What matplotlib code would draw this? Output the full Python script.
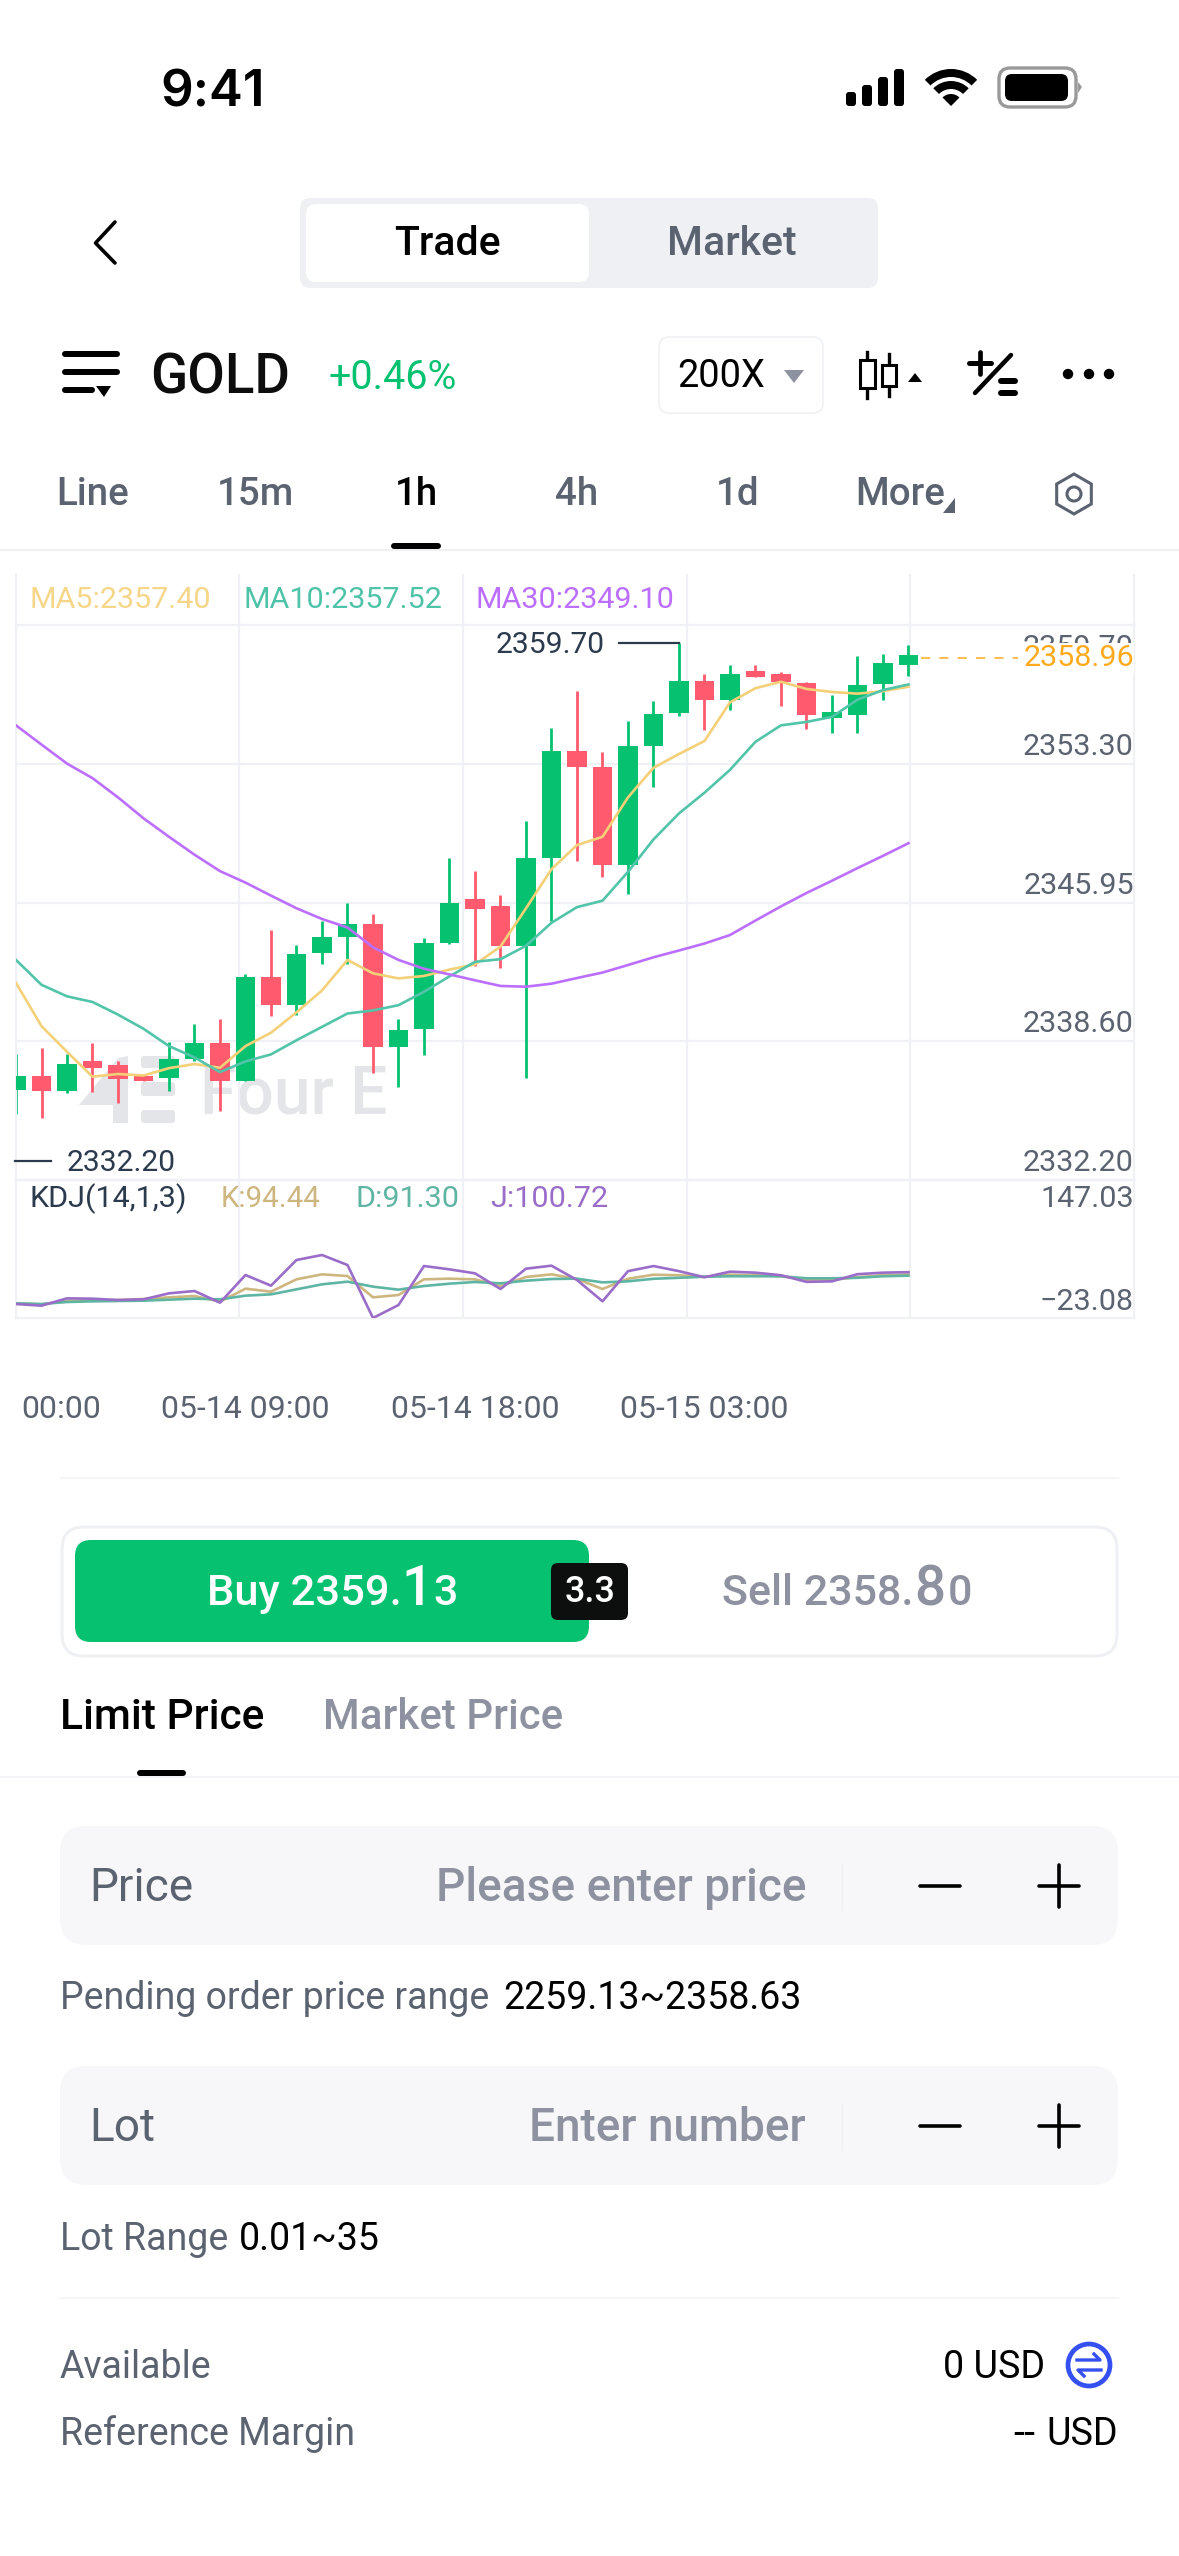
import matplotlib
matplotlib.use('Agg')
import matplotlib.pyplot as plt
from matplotlib.patches import FancyBboxPatch, Polygon, Circle, Rectangle, Wedge, RegularPolygon

plt.rcParams['font.family'] = ['Roboto', 'DejaVu Sans']

# ---- chart values ----
opens = [2336.03, 2336.78, 2335.95, 2337.53, 2337.33, 2336.78, 2336.64, 2337.67, 2338.51, 2336.47, 2342.00, 2340.53,
         2343.27, 2344.13, 2344.80, 2338.28, 2339.26, 2343.82, 2346.12, 2345.77, 2343.64, 2348.31, 2353.97, 2353.14,
         2347.96, 2354.27, 2355.98, 2357.68, 2356.71, 2358.21, 2358.05, 2357.62, 2355.76, 2355.92, 2357.52, 2358.57]
highs = [2337.94, 2338.24, 2337.90, 2338.51, 2337.53, 2336.82, 2338.55, 2339.50, 2339.76, 2342.14, 2344.49, 2343.68,
         2345.00, 2345.91, 2345.32, 2339.76, 2344.07, 2348.29, 2347.64, 2346.34, 2350.28, 2355.19, 2357.16, 2353.91,
         2355.59, 2356.63, 2359.70, 2358.05, 2358.53, 2358.53, 2358.19, 2357.64, 2356.97, 2359.04, 2359.14, 2359.61]
lows = [2334.75, 2334.53, 2335.85, 2335.91, 2335.30, 2336.47, 2335.95, 2337.57, 2334.89, 2336.47, 2339.96, 2340.01,
        2342.67, 2342.71, 2336.92, 2336.15, 2337.88, 2343.76, 2342.60, 2342.46, 2336.66, 2345.00, 2348.15, 2347.33,
        2346.40, 2352.10, 2355.86, 2355.11, 2356.18, 2357.91, 2356.39, 2355.17, 2354.97, 2354.97, 2356.67, 2357.97]
closes = [2336.78, 2335.95, 2337.37, 2337.17, 2336.62, 2336.47, 2337.67, 2338.51, 2336.47, 2342.00, 2340.53, 2343.25,
          2344.13, 2344.80, 2338.28, 2339.21, 2343.82, 2345.95, 2345.63, 2343.64, 2348.31, 2353.97, 2353.14, 2347.96,
          2354.27, 2355.96, 2357.68, 2356.71, 2358.05, 2357.91, 2357.64, 2355.90, 2356.06, 2357.50, 2358.68, 2359.08]
ma5 = [2341.69, 2339.40, 2338.04, 2336.72, 2336.86, 2336.78, 2337.17, 2337.39, 2337.19, 2338.34, 2339.05, 2340.13,
       2341.29, 2342.91, 2342.20, 2341.93, 2342.06, 2342.40, 2342.67, 2343.62, 2345.65, 2347.72, 2349.00, 2349.44,
       2351.53, 2353.10, 2353.83, 2354.52, 2356.57, 2357.32, 2357.66, 2357.28, 2357.12, 2357.03, 2357.16, 2357.40]
ma10 = [2342.91, 2341.59, 2340.98, 2340.68, 2340.01, 2339.26, 2338.34, 2337.74, 2336.96, 2337.53, 2337.90, 2338.65,
        2339.36, 2340.07, 2340.23, 2340.51, 2341.22, 2342.04, 2342.81, 2342.95, 2343.66, 2344.88, 2345.71, 2346.05,
        2347.58, 2349.30, 2350.68, 2351.78, 2352.99, 2354.48, 2355.35, 2355.53, 2355.80, 2356.71, 2357.22, 2357.52]
ma30 = [2355.35, 2354.33, 2353.32, 2352.55, 2351.53, 2350.42, 2349.44, 2348.49, 2347.62, 2347.01, 2346.32, 2345.65,
        2345.08, 2344.63, 2343.58, 2342.91, 2342.44, 2342.14, 2341.83, 2341.53, 2341.49, 2341.65, 2341.95, 2342.24,
        2342.64, 2343.05, 2343.41, 2343.78, 2344.23, 2345.00, 2345.75, 2346.46, 2347.11, 2347.78, 2348.43, 2349.10]
kdj_k = [16.5, 13.8, 23.7, 25.5, 25.5, 28.2, 32.7, 36.3, 21.0, 56.1, 48.0, 81.3, 94.8, 90.3, 32.7, 39.0, 81.3, 83.1,
         81.3, 63.3, 87.6, 94.8, 82.2, 55.2, 82.8, 93.8, 92.4, 88.3, 93.8, 92.4, 89.6, 80.0, 80.0, 87.0, 92.4, 94.44]
kdj_d = [16.5, 14.7, 20.1, 21.9, 22.8, 23.7, 26.4, 29.1, 27.3, 37.2, 40.8, 54.3, 67.8, 75.0, 61.5, 53.4, 63.3, 69.6,
         74.1, 70.5, 77.7, 82.2, 83.1, 73.1, 76.0, 82.8, 85.5, 88.3, 89.6, 89.6, 89.6, 84.1, 84.1, 85.5, 89.6, 91.30]
kdj_j = [14.7, 10.2, 30.0, 29.1, 25.5, 27.3, 43.5, 49.8, 18.3, 93.0, 64.2, 133.5, 147.03, 120.0, -23.08, 12.0, 117.3,
         108.3, 97.5, 55.2, 110.1, 118.2, 79.5, 22.1, 103.4, 117.2, 103.4, 86.9, 102.0, 99.3, 92.4, 74.5, 75.9, 95.2,
         99.3, 100.72]
price_ticks = [2353.30, 2345.95, 2338.60]
time_labels = ['00:00', '05-14 09:00', '05-14 18:00', '05-15 03:00']
tabs = ['Line', '15m', '1h', '4h', '1d', 'More']

GREEN = '#05C170'
RED = '#FF5A6E'
GRID = '#F0F1F4'
INK = '#2C3A4E'
GRAY = '#8E92A0'
LABEL = '#5B6270'
W, H = 1179, 2556

fig = plt.figure(figsize=(W / 100, H / 100), dpi=100, facecolor='white')


def px_axes(left, top, right, bottom, z):
    return fig.add_axes([left / W, 1 - bottom / H, (right - left) / W, (bottom - top) / H], zorder=z)


# background layer and top layer both work in screen pixels
bg = px_axes(0, 0, W, H, 0)
ui = px_axes(0, 0, W, H, 5)
for a in (bg, ui):
    a.set_xlim(0, W)
    a.set_ylim(H, 0)
    a.axis('off')
    a.patch.set_alpha(0)


def txt(x, y, s, size, color='black', ha='left', va='center', weight='normal', family=None, **kw):
    if family is not None:
        kw['family'] = family
    if va == 'center':
        y = y + size * 0.09  # matplotlib centres on the box with descender, screenshot text sits lower
    return ui.text(x, y, s, fontsize=size * 0.72, color=color, ha=ha, va=va, fontweight=weight, **kw)


def box(a, x0, y0, x1, y1, r, fc, ec='none', lw=0, z=1):
    a.add_patch(FancyBboxPatch((x0 + r, y0 + r), x1 - x0 - 2 * r, y1 - y0 - 2 * r,
                               boxstyle='round,pad=%s,rounding_size=%s' % (r, r),
                               fc=fc, ec=ec, lw=lw, zorder=z))


def bar(x0, x1, y, lw, color='black'):
    ui.plot([x0, x1], [y, y], color=color, lw=lw * 0.72, solid_capstyle='round')


# ---- watermark sits behind the candles ----
wm = '#E4E5E8'
bg.add_patch(Polygon([(79, 1105), (118, 1058), (128, 1056), (128, 1123), (113, 1123), (113, 1105)], fc=wm, ec='none'))
for y0, y1 in [(1056, 1068), (1082, 1096), (1110, 1123)]:
    box(bg, 141, y0, 175, y1, 3, wm)
bg.text(200, 1095, 'Four E', fontsize=66 * 0.72, color=wm, va='center', ha='left', fontweight='medium')

# ---- price panel ----
LEFT, RIGHT = 15.5, 1134
PRICE_TOP, PRICE_BOT, KDJ_BOT = 625, 1180, 1318
STEP = 25.5
PER_PX = 7.35 / 138.6
idx = list(range(len(opens)))


def x_limits():
    return (LEFT - 16) / STEP, (RIGHT - 16) / STEP


def vgrid(ax):
    for px in (238.7, 462.7, 686.7, 910.3):
        ax.axvline((px - 16) / STEP, color=GRID, lw=1.6, zorder=0)


# grid verticals carry on up through the MA legend row
for px in (15.5, 238.7, 462.7, 686.7, 910.3, 1134):
    bg.plot([px, px], [575, 625], color=GRID, lw=1.6)

ax = px_axes(LEFT, PRICE_TOP, RIGHT, PRICE_BOT, 2)
ax.patch.set_alpha(0)
ax.set_xlim(*x_limits())
ax.set_ylim(2353.30 - (PRICE_BOT - 764) * PER_PX, 2353.30 + (764 - PRICE_TOP) * PER_PX)
vgrid(ax)
ax.set_yticks(price_ticks)
ax.set_xticks([])
ax.tick_params(left=False, labelleft=False)
ax.grid(axis='y', color=GRID, lw=1.6, zorder=0)
ax.set_axisbelow(True)
for s in ax.spines.values():
    s.set_color(GRID)
    s.set_linewidth(1.6)

body_w = 19.3 / STEP
for i in idx:
    up = closes[i] >= opens[i]
    c = GREEN if up else RED
    ax.plot([i, i], [lows[i], highs[i]], color=c, lw=2.0, solid_capstyle='butt', zorder=2, clip_on=True)
    ax.bar(i, abs(closes[i] - opens[i]), bottom=min(opens[i], closes[i]), width=body_w, color=c, zorder=3)
ax.plot(idx, ma5, color='#F4D078', lw=1.9, zorder=4)
ax.plot(idx, ma10, color='#52C4A9', lw=1.9, zorder=4)
ax.plot(idx, ma30, color='#BC6FFF', lw=1.9, zorder=4)
ax.set_xlim(*x_limits())
ax.plot([(921 - 16) / STEP, (1018 - 16) / STEP], [2358.94, 2358.94], color='#FFAA1E', lw=1.1, dashes=(6, 6), zorder=4)

# ---- KDJ panel ----
ax2 = px_axes(LEFT, PRICE_BOT, RIGHT, KDJ_BOT, 2)
ax2.patch.set_alpha(0)
ax2.set_xlim(*x_limits())
ax2.set_ylim(-23.08, -23.08 + (KDJ_BOT - PRICE_BOT) * 2.70)
vgrid(ax2)
ax2.set_xticks([])
ax2.set_yticks([])
for s in ax2.spines.values():
    s.set_color(GRID)
    s.set_linewidth(1.6)
ax2.plot(idx, kdj_k, color='#CDB67F', lw=1.9, zorder=3)
ax2.plot(idx, kdj_d, color='#5FB5A3', lw=1.9, zorder=3)
ax2.plot(idx, kdj_j, color='#9A6DC9', lw=1.9, zorder=4)

# legend rows and axis labels
txt(30, 597, 'MA5:2357.40', 30.5, '#F6D688')
txt(244, 597, 'MA10:2357.52', 30.5, '#4FC3A8')
txt(475, 597, 'MA30:2349.10', 30.5, '#BC6FFF')
txt(496, 642, '2359.70', 30, INK)
ui.plot([619, 679], [643, 643], color=INK, lw=1.6)
txt(67, 1160, '2332.20', 30, INK)
ui.plot([15, 51], [1161, 1161], color=INK, lw=1.6)
txt(1134, 645, '2359.70', 30.5, LABEL, ha='right', zorder=2)
ui.add_patch(Rectangle((1023, 643), 111, 30, fc='white', ec='none', zorder=3))
txt(1134, 655, '2358.96', 30.5, '#FFAA1E', ha='right', zorder=4)
for v, y in zip(price_ticks, (744, 883, 1021)):
    txt(1134, y, '%.2f' % v, 30.5, LABEL, ha='right')
txt(1134, 1160, '2332.20', 30.5, LABEL, ha='right')
txt(1134, 1196, '147.03', 30.5, LABEL, ha='right')
txt(1134, 1299, '\u221223.08', 30.5, LABEL, ha='right')
txt(30, 1196, 'KDJ(14,1,3)', 30.5, INK)
txt(221, 1196, 'K:94.44', 29.5, '#CDB67F')
txt(356, 1196, 'D:91.30', 30.5, '#5FB5A3')
txt(490, 1196, 'J:100.72', 30.5, '#9A6DC9')
for s, x in zip(time_labels, (61, 245, 475, 704)):
    txt(x, 1407, s, 32, LABEL, ha='center')

# ---- status bar ----
txt(213, 88, '9:41', 51, 'black', ha='center', weight='semibold', family='Inter')
for x0, top in zip((846, 862, 878, 894), (92, 85, 77, 69)):
    box(ui, x0, top, x0 + 10, 106, 3, 'black')
for r0, r1 in [(0, 12), (17, 25), (29, 37)]:
    ui.add_patch(Wedge((951, 106), r1, 225, 315, width=r1 - r0, fc='black', ec='none'))
box(ui, 999, 68, 1076, 107, 11, 'white', ec='#999999', lw=2.4)
box(ui, 1005, 74, 1068, 101, 7, 'black')
ui.add_patch(Polygon([(1078, 82), (1082, 87), (1078, 93)], fc='#999999', ec='none'))

# ---- header ----
ui.plot([115, 95.5, 115], [222, 243, 263], color='black', lw=2.6, solid_joinstyle='round', solid_capstyle='round')
box(ui, 300, 198, 878, 288, 10, '#EFF0F4')
box(ui, 306, 204, 589, 282, 10, 'white')
txt(447, 240, 'Trade', 41, 'black', ha='center', weight='medium')
txt(732, 240, 'Market', 41, LABEL, ha='center', weight='medium')

for y, x1 in [(354, 117), (372, 117), (390, 92)]:
    bar(65, x1, y, 6)
ui.add_patch(Polygon([(96, 386), (111, 386), (104, 397)], fc='black', ec='none'))
txt(150, 373, 'GOLD', 54.5, '#0D0D0D', weight='medium')
txt(328, 374, '+0.46%', 39.5, GREEN)
box(ui, 659, 337, 823, 413, 10, 'white', ec='#F0F1F4', lw=1.2)
txt(677, 373, '200X', 38, 'black')
ui.add_patch(Polygon([(784, 370), (804, 370), (794, 383)], fc=GRAY, ec='none'))

ui.plot([867, 867], [352, 398], color='black', lw=2.4)
ui.add_patch(Rectangle((860, 360), 15, 28, fc='white', ec='black', lw=2.2, zorder=3))
ui.plot([889, 889], [354, 396], color='black', lw=2.4)
ui.add_patch(Rectangle((882, 365), 14, 21, fc='white', ec='black', lw=2.2, zorder=3))
ui.add_patch(Polygon([(908, 382), (922, 382), (915, 373)], fc='black', ec='none'))
bar(969, 991, 363, 5)
ui.plot([980, 980], [352, 374], color='black', lw=3.4, solid_capstyle='round')
ui.plot([1011, 975], [355, 393], color='black', lw=3.2, solid_capstyle='round')
bar(1001, 1015, 381, 6)
bar(1001, 1015, 393, 6)
for x in (1068, 1089, 1109):
    ui.add_patch(Circle((x, 374), 5.2, fc='black', ec='none'))

# ---- timeframe tabs ----
for s, x in zip(tabs, (92.5, 255, 416, 577, 738, 900)):
    txt(x, 491, s, 38.5, 'black' if s == '1h' else LABEL, ha='center', weight='medium')
ui.add_patch(Polygon([(955, 498), (955, 513), (943, 513)], fc=LABEL, ec='none'))
ui.add_patch(RegularPolygon((1074, 494), 6, radius=20, fc='none', ec=LABEL, lw=2.2))
ui.add_patch(Circle((1074, 494), 7, fc='none', ec=LABEL, lw=2.2))
bar(394, 438, 546, 6)
ui.plot([0, W], [550, 550], color='#EFF0F3', lw=1.4)

# ---- order form ----
ui.plot([61, 1118], [1478, 1478], color='#F2F3F5', lw=1.2)
box(ui, 62, 1527, 1117, 1656, 22, 'white', ec='#EFF0F4', lw=2.2)
box(ui, 75, 1540, 589, 1642, 16, GREEN)
box(ui, 551, 1563, 628, 1620, 7, '#0D0F0E', z=2)
txt(590, 1589, '3.3', 36, 'white', ha='center', weight='medium')
txt(207, 1605, 'Buy 2359.', 43.5, 'white', va='baseline', weight='medium')
txt(401, 1605, '1', 55, 'white', va='baseline', weight='medium')
txt(433, 1605, '3', 43, 'white', va='baseline', weight='medium')
txt(722, 1605, 'Sell 2358.', 43, GRAY, va='baseline', weight='medium')
txt(914, 1605, '8', 55, GRAY, va='baseline', weight='medium')
txt(948, 1605, '0', 43, GRAY, va='baseline', weight='medium')
txt(60, 1729, 'Limit Price', 42.5, 'black', va='baseline', weight='medium')
txt(323, 1729, 'Market Price', 42, GRAY, va='baseline', weight='medium')
bar(140, 183, 1773, 6)
ui.plot([0, W], [1777, 1777], color='#F2F3F5', lw=1.2)

for top, bottom, label, hint in [(1826, 1945, 'Price', 'Please enter price'), (2066, 2185, 'Lot', 'Enter number')]:
    mid = (top + bottom) / 2 + 1
    box(ui, 60, top, 1118, bottom, 26, '#F7F7F9')
    txt(89, mid - 3, label, 46, LABEL)
    txt(806, mid - 3, hint, 46, GRAY, ha='right', weight='medium')
    ui.plot([842, 842], [mid - 23, mid + 23], color='#EEEFF2', lw=1)
    bar(920, 960, mid - 1, 3.6)
    bar(1039, 1079, mid - 1, 3.6)
    ui.plot([1059, 1059], [mid - 22, mid + 20], color='black', lw=2.6, solid_capstyle='round')

txt(60, 1995, 'Pending order price range', 37.5, LABEL)
txt(503, 1995, '2259.13~2358.63', 37.5, 'black')
txt(60, 2236, 'Lot Range', 37.5, LABEL)
txt(239, 2236, '0.01~35', 37.5, 'black')
ui.plot([60, 1118], [2298, 2298], color='#F2F3F5', lw=1.2)
txt(60, 2364, 'Available', 37.5, LABEL)
txt(1045, 2364, '0 USD', 37.8, 'black', ha='right')
ui.add_patch(Circle((1089, 2365), 21, fc='white', ec='#3450F0', lw=3.4))
ui.plot([1077, 1100, 1094], [2360, 2360, 2354], color='#3450F0', lw=2.4)
ui.plot([1101, 1078, 1084], [2370, 2370, 2376], color='#3450F0', lw=2.4)
txt(60, 2431, 'Reference Margin', 37.5, LABEL)
txt(1118, 2431, 'USD', 37.8, 'black', ha='right')
txt(1035, 2431, '--', 40, 'black', ha='right')

fig.savefig('out.png', dpi=100, facecolor='white')
